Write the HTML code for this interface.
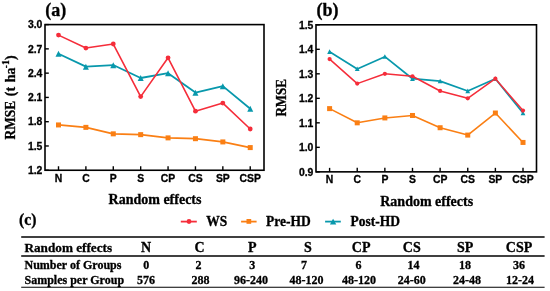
<!DOCTYPE html>
<html><head><meta charset="utf-8"><style>
html,body{margin:0;padding:0;background:#fff;width:550px;height:291px;overflow:hidden}
svg{display:block;will-change:transform}
text{stroke:#000;stroke-width:0.3px}
.tk{font-family:"Liberation Sans",sans-serif;font-weight:bold;font-size:10.4px;fill:#000}
.pl{font-family:"Liberation Serif",serif;font-weight:bold;font-size:18px;fill:#000}
.pc{font-family:"Liberation Serif",serif;font-weight:bold;font-size:15.7px;fill:#000}
.at{font-family:"Liberation Serif",serif;font-weight:bold;font-size:14px;fill:#000}
.sup{font-size:9px}
.at2{font-family:"Liberation Serif",serif;font-weight:bold;font-size:13px;fill:#000}
.lg{font-family:"Liberation Serif",serif;font-weight:bold;font-size:13.5px;fill:#000}
.th{font-family:"Liberation Serif",serif;font-weight:bold;font-size:13.2px;fill:#000}
.th2{font-family:"Liberation Serif",serif;font-weight:bold;font-size:14px;fill:#000}
.td{font-family:"Liberation Serif",serif;font-weight:bold;font-size:12px;fill:#000}
</style></head><body>
<svg width="550" height="291" viewBox="0 0 550 291">
<rect x="45.00" y="24.60" width="219.00" height="145.65" fill="none" stroke="#000" stroke-width="1.6"/>
<line x1="45.00" y1="170.25" x2="48.80" y2="170.25" stroke="#000" stroke-width="1.4"/>
<text x="42.40" y="173.95" class="tk" text-anchor="end">1.2</text>
<line x1="45.00" y1="145.97" x2="48.80" y2="145.97" stroke="#000" stroke-width="1.4"/>
<text x="42.40" y="149.67" class="tk" text-anchor="end">1.5</text>
<line x1="45.00" y1="121.70" x2="48.80" y2="121.70" stroke="#000" stroke-width="1.4"/>
<text x="42.40" y="125.40" class="tk" text-anchor="end">1.8</text>
<line x1="45.00" y1="97.42" x2="48.80" y2="97.42" stroke="#000" stroke-width="1.4"/>
<text x="42.40" y="101.12" class="tk" text-anchor="end">2.1</text>
<line x1="45.00" y1="73.15" x2="48.80" y2="73.15" stroke="#000" stroke-width="1.4"/>
<text x="42.40" y="76.85" class="tk" text-anchor="end">2.4</text>
<line x1="45.00" y1="48.87" x2="48.80" y2="48.87" stroke="#000" stroke-width="1.4"/>
<text x="42.40" y="52.57" class="tk" text-anchor="end">2.7</text>
<line x1="45.00" y1="24.60" x2="48.80" y2="24.60" stroke="#000" stroke-width="1.4"/>
<text x="42.40" y="28.30" class="tk" text-anchor="end">3.0</text>
<line x1="58.50" y1="170.25" x2="58.50" y2="166.25" stroke="#000" stroke-width="1.4"/>
<text x="58.50" y="181.65" class="tk" text-anchor="middle">N</text>
<line x1="85.89" y1="170.25" x2="85.89" y2="166.25" stroke="#000" stroke-width="1.4"/>
<text x="85.89" y="181.65" class="tk" text-anchor="middle">C</text>
<line x1="113.28" y1="170.25" x2="113.28" y2="166.25" stroke="#000" stroke-width="1.4"/>
<text x="113.28" y="181.65" class="tk" text-anchor="middle">P</text>
<line x1="140.67" y1="170.25" x2="140.67" y2="166.25" stroke="#000" stroke-width="1.4"/>
<text x="140.67" y="181.65" class="tk" text-anchor="middle">S</text>
<line x1="168.06" y1="170.25" x2="168.06" y2="166.25" stroke="#000" stroke-width="1.4"/>
<text x="168.06" y="181.65" class="tk" text-anchor="middle">CP</text>
<line x1="195.45" y1="170.25" x2="195.45" y2="166.25" stroke="#000" stroke-width="1.4"/>
<text x="195.45" y="181.65" class="tk" text-anchor="middle">CS</text>
<line x1="222.84" y1="170.25" x2="222.84" y2="166.25" stroke="#000" stroke-width="1.4"/>
<text x="222.84" y="181.65" class="tk" text-anchor="middle">SP</text>
<line x1="250.23" y1="170.25" x2="250.23" y2="166.25" stroke="#000" stroke-width="1.4"/>
<text x="250.23" y="181.65" class="tk" text-anchor="middle">CSP</text>
<polyline points="58.50,124.94 85.89,127.36 113.28,133.84 140.67,134.65 168.06,137.88 195.45,138.69 222.84,141.93 250.23,147.59" fill="none" stroke="#FA7F14" stroke-width="1.7" stroke-linejoin="round"/>
<rect x="56.00" y="122.44" width="5" height="5" fill="#FA7F14"/>
<rect x="83.39" y="124.86" width="5" height="5" fill="#FA7F14"/>
<rect x="110.78" y="131.34" width="5" height="5" fill="#FA7F14"/>
<rect x="138.17" y="132.15" width="5" height="5" fill="#FA7F14"/>
<rect x="165.56" y="135.38" width="5" height="5" fill="#FA7F14"/>
<rect x="192.95" y="136.19" width="5" height="5" fill="#FA7F14"/>
<rect x="220.34" y="139.43" width="5" height="5" fill="#FA7F14"/>
<rect x="247.73" y="145.09" width="5" height="5" fill="#FA7F14"/>
<polyline points="58.50,53.73 85.89,66.68 113.28,65.06 140.67,78.00 168.06,73.15 195.45,92.57 222.84,86.10 250.23,108.75" fill="none" stroke="#0898AC" stroke-width="1.8" stroke-linejoin="round"/>
<path d="M58.50,50.83 L61.50,56.83 L55.50,56.83 Z" fill="#0898AC"/>
<path d="M85.89,63.78 L88.89,69.78 L82.89,69.78 Z" fill="#0898AC"/>
<path d="M113.28,62.16 L116.28,68.16 L110.28,68.16 Z" fill="#0898AC"/>
<path d="M140.67,75.10 L143.67,81.10 L137.67,81.10 Z" fill="#0898AC"/>
<path d="M168.06,70.25 L171.06,76.25 L165.06,76.25 Z" fill="#0898AC"/>
<path d="M195.45,89.67 L198.45,95.67 L192.45,95.67 Z" fill="#0898AC"/>
<path d="M222.84,83.20 L225.84,89.20 L219.84,89.20 Z" fill="#0898AC"/>
<path d="M250.23,105.85 L253.23,111.85 L247.23,111.85 Z" fill="#0898AC"/>
<polyline points="58.50,35.12 85.89,48.07 113.28,44.02 140.67,96.62 168.06,57.78 195.45,111.18 222.84,103.09 250.23,128.98" fill="none" stroke="#F52D3A" stroke-width="1.6" stroke-linejoin="round"/>
<circle cx="58.50" cy="35.12" r="2.4" fill="#F52D3A"/>
<circle cx="85.89" cy="48.07" r="2.4" fill="#F52D3A"/>
<circle cx="113.28" cy="44.02" r="2.4" fill="#F52D3A"/>
<circle cx="140.67" cy="96.62" r="2.4" fill="#F52D3A"/>
<circle cx="168.06" cy="57.78" r="2.4" fill="#F52D3A"/>
<circle cx="195.45" cy="111.18" r="2.4" fill="#F52D3A"/>
<circle cx="222.84" cy="103.09" r="2.4" fill="#F52D3A"/>
<circle cx="250.23" cy="128.98" r="2.4" fill="#F52D3A"/>
<rect x="316.00" y="24.80" width="220.50" height="147.05" fill="none" stroke="#000" stroke-width="1.6"/>
<line x1="316.00" y1="171.85" x2="319.80" y2="171.85" stroke="#000" stroke-width="1.4"/>
<text x="313.40" y="175.55" class="tk" text-anchor="end">0.9</text>
<line x1="316.00" y1="147.34" x2="319.80" y2="147.34" stroke="#000" stroke-width="1.4"/>
<text x="313.40" y="151.04" class="tk" text-anchor="end">1.0</text>
<line x1="316.00" y1="122.83" x2="319.80" y2="122.83" stroke="#000" stroke-width="1.4"/>
<text x="313.40" y="126.53" class="tk" text-anchor="end">1.1</text>
<line x1="316.00" y1="98.33" x2="319.80" y2="98.33" stroke="#000" stroke-width="1.4"/>
<text x="313.40" y="102.03" class="tk" text-anchor="end">1.2</text>
<line x1="316.00" y1="73.82" x2="319.80" y2="73.82" stroke="#000" stroke-width="1.4"/>
<text x="313.40" y="77.52" class="tk" text-anchor="end">1.3</text>
<line x1="316.00" y1="49.31" x2="319.80" y2="49.31" stroke="#000" stroke-width="1.4"/>
<text x="313.40" y="53.01" class="tk" text-anchor="end">1.4</text>
<line x1="316.00" y1="24.80" x2="319.80" y2="24.80" stroke="#000" stroke-width="1.4"/>
<text x="313.40" y="28.50" class="tk" text-anchor="end">1.5</text>
<line x1="329.60" y1="171.85" x2="329.60" y2="167.85" stroke="#000" stroke-width="1.4"/>
<text x="329.60" y="183.25" class="tk" text-anchor="middle">N</text>
<line x1="357.23" y1="171.85" x2="357.23" y2="167.85" stroke="#000" stroke-width="1.4"/>
<text x="357.23" y="183.25" class="tk" text-anchor="middle">C</text>
<line x1="384.86" y1="171.85" x2="384.86" y2="167.85" stroke="#000" stroke-width="1.4"/>
<text x="384.86" y="183.25" class="tk" text-anchor="middle">P</text>
<line x1="412.49" y1="171.85" x2="412.49" y2="167.85" stroke="#000" stroke-width="1.4"/>
<text x="412.49" y="183.25" class="tk" text-anchor="middle">S</text>
<line x1="440.12" y1="171.85" x2="440.12" y2="167.85" stroke="#000" stroke-width="1.4"/>
<text x="440.12" y="183.25" class="tk" text-anchor="middle">CP</text>
<line x1="467.75" y1="171.85" x2="467.75" y2="167.85" stroke="#000" stroke-width="1.4"/>
<text x="467.75" y="183.25" class="tk" text-anchor="middle">CS</text>
<line x1="495.38" y1="171.85" x2="495.38" y2="167.85" stroke="#000" stroke-width="1.4"/>
<text x="495.38" y="183.25" class="tk" text-anchor="middle">SP</text>
<line x1="523.01" y1="171.85" x2="523.01" y2="167.85" stroke="#000" stroke-width="1.4"/>
<text x="523.01" y="183.25" class="tk" text-anchor="middle">CSP</text>
<polyline points="329.60,108.62 357.23,122.83 384.86,117.93 412.49,115.48 440.12,127.73 467.75,135.09 495.38,113.03 523.01,142.44" fill="none" stroke="#FA7F14" stroke-width="1.6" stroke-linejoin="round"/>
<rect x="327.10" y="106.12" width="5" height="5" fill="#FA7F14"/>
<rect x="354.73" y="120.33" width="5" height="5" fill="#FA7F14"/>
<rect x="382.36" y="115.43" width="5" height="5" fill="#FA7F14"/>
<rect x="409.99" y="112.98" width="5" height="5" fill="#FA7F14"/>
<rect x="437.62" y="125.23" width="5" height="5" fill="#FA7F14"/>
<rect x="465.25" y="132.59" width="5" height="5" fill="#FA7F14"/>
<rect x="492.88" y="110.53" width="5" height="5" fill="#FA7F14"/>
<rect x="520.51" y="139.94" width="5" height="5" fill="#FA7F14"/>
<polyline points="329.60,51.76 357.23,68.91 384.86,56.66 412.49,78.72 440.12,81.17 467.75,90.97 495.38,78.72 523.01,113.03" fill="none" stroke="#0898AC" stroke-width="1.7" stroke-linejoin="round"/>
<path d="M329.60,49.36 L332.00,53.96 L327.20,53.96 Z" fill="#0898AC"/>
<path d="M357.23,66.51 L359.63,71.11 L354.83,71.11 Z" fill="#0898AC"/>
<path d="M384.86,54.26 L387.26,58.86 L382.46,58.86 Z" fill="#0898AC"/>
<path d="M412.49,76.32 L414.89,80.92 L410.09,80.92 Z" fill="#0898AC"/>
<path d="M440.12,78.77 L442.52,83.37 L437.72,83.37 Z" fill="#0898AC"/>
<path d="M467.75,88.57 L470.15,93.17 L465.35,93.17 Z" fill="#0898AC"/>
<path d="M495.38,76.32 L497.78,80.92 L492.98,80.92 Z" fill="#0898AC"/>
<path d="M523.01,110.63 L525.41,115.23 L520.61,115.23 Z" fill="#0898AC"/>
<polyline points="329.60,59.11 357.23,83.62 384.86,73.82 412.49,76.27 440.12,90.97 467.75,98.33 495.38,78.72 523.01,110.58" fill="none" stroke="#F52D3A" stroke-width="1.5" stroke-linejoin="round"/>
<circle cx="329.60" cy="59.11" r="2.1" fill="#F52D3A"/>
<circle cx="357.23" cy="83.62" r="2.1" fill="#F52D3A"/>
<circle cx="384.86" cy="73.82" r="2.1" fill="#F52D3A"/>
<circle cx="412.49" cy="76.27" r="2.1" fill="#F52D3A"/>
<circle cx="440.12" cy="90.97" r="2.1" fill="#F52D3A"/>
<circle cx="467.75" cy="98.33" r="2.1" fill="#F52D3A"/>
<circle cx="495.38" cy="78.72" r="2.1" fill="#F52D3A"/>
<circle cx="523.01" cy="110.58" r="2.1" fill="#F52D3A"/>
<text x="45.2" y="16" class="pl">(a)</text>
<text x="316.4" y="16" class="pl">(b)</text>
<text transform="translate(15.4,139.5) rotate(-90) scale(1,1.12)" class="at2" style="word-spacing:1.2px;font-size:13.4px">RMSE <tspan style="font-size:13.9px">(t ha</tspan><tspan class="sup" dx="-0.6" dy="-6">-</tspan><tspan class="sup" dx="0.5">1</tspan><tspan style="font-size:13.9px" dx="0.3" dy="6">)</tspan></text>
<text transform="translate(285.7,116.6) rotate(-90) scale(1,1.12)" class="at2">RMSE</text>
<text x="155" y="204" class="at" text-anchor="middle">Random effects</text>
<text x="426.7" y="206" class="at" text-anchor="middle">Random effects</text>
<line x1="180.8" y1="221.6" x2="196.8" y2="221.6" stroke="#F52D3A" stroke-width="1.8"/><circle cx="189" cy="221.5" r="2.4" fill="#F52D3A"/>
<text transform="translate(206.3,225.6) scale(1,1.14)" class="lg">WS</text>
<line x1="241.1" y1="221.6" x2="256.6" y2="221.6" stroke="#FA7F14" stroke-width="1.8"/><rect x="246.5" y="219.0" width="4.7" height="4.8" fill="#FA7F14"/>
<text transform="translate(266.0,225.6) scale(1,1.14)" class="lg">Pre-HD</text>
<line x1="325.1" y1="221.6" x2="340.8" y2="221.6" stroke="#0898AC" stroke-width="1.8"/><path d="M333.1,218.7 L336.3,224.6 L329.9,224.6 Z" fill="#0898AC"/>
<text transform="translate(350.6,225.6) scale(1,1.14)" class="lg">Post-HD</text>
<text x="19.0" y="225.4" class="pc">(c)</text>
<line x1="21.2" y1="237" x2="544.6" y2="237" stroke="#000" stroke-width="1.7"/>
<line x1="21.2" y1="256" x2="544.6" y2="256" stroke="#000" stroke-width="1.7"/>
<line x1="21.2" y1="287.3" x2="544.6" y2="287.3" stroke="#000" stroke-width="1.1"/>
<text x="24.5" y="252" class="th">Random effects</text>
<text x="24.5" y="268.7" class="td">Number of Groups</text>
<text x="24.5" y="284.2" class="td">Samples per Group</text>
<text x="146.1" y="251.8" class="th2" text-anchor="middle">N</text>
<text x="199.5" y="251.8" class="th2" text-anchor="middle">C</text>
<text x="252.3" y="251.8" class="th2" text-anchor="middle">P</text>
<text x="308" y="251.8" class="th2" text-anchor="middle">S</text>
<text x="361.2" y="251.8" class="th2" text-anchor="middle">CP</text>
<text x="411.8" y="251.8" class="th2" text-anchor="middle">CS</text>
<text x="465.1" y="251.8" class="th2" text-anchor="middle">SP</text>
<text x="519.1" y="251.8" class="th2" text-anchor="middle">CSP</text>
<text x="146.2" y="268.7" class="td" text-anchor="middle">0</text>
<text x="198.4" y="268.7" class="td" text-anchor="middle">2</text>
<text x="252.3" y="268.7" class="td" text-anchor="middle">3</text>
<text x="303.9" y="268.7" class="td" text-anchor="middle">7</text>
<text x="358.4" y="268.7" class="td" text-anchor="middle">6</text>
<text x="413.5" y="268.7" class="td" text-anchor="middle">14</text>
<text x="465" y="268.7" class="td" text-anchor="middle">18</text>
<text x="518.9" y="268.7" class="td" text-anchor="middle">36</text>
<text x="146" y="284.2" class="td" text-anchor="middle">576</text>
<text x="200.5" y="284.2" class="td" text-anchor="middle">288</text>
<text x="251.1" y="284.2" class="td" text-anchor="middle">96-240</text>
<text x="306.4" y="284.2" class="td" text-anchor="middle">48-120</text>
<text x="358.9" y="284.2" class="td" text-anchor="middle">48-120</text>
<text x="411.8" y="284.2" class="td" text-anchor="middle">24-60</text>
<text x="467.1" y="284.2" class="td" text-anchor="middle">24-48</text>
<text x="520" y="284.2" class="td" text-anchor="middle">12-24</text>
</svg>
</body></html>
